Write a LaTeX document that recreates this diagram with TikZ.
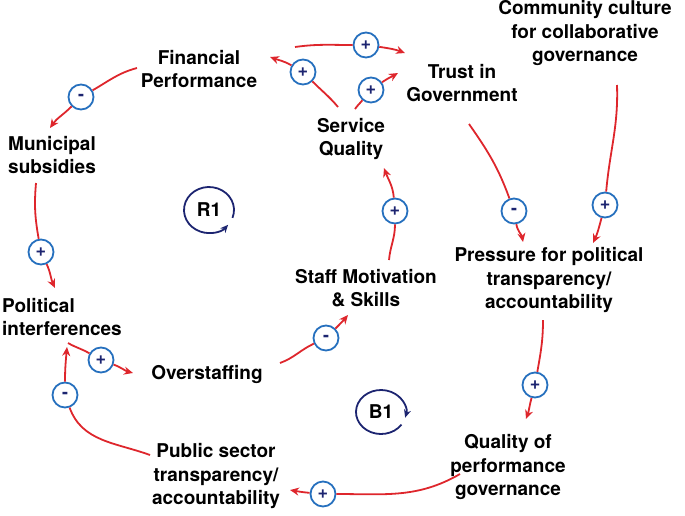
\documentclass[tikz,border=0pt]{standalone}
\usepackage{fontspec}
\setmainfont{TeX Gyre Heros}
\usetikzlibrary{arrows.meta}
\definecolor{linkred}{RGB}{222,38,44}
\definecolor{polblue}{RGB}{38,112,190}
\definecolor{navy}{RGB}{28,36,112}
\tikzset{
  lbl/.style={font=\fontsize{19}{23.5}\selectfont\bfseries, inner sep=0pt, text=black},
  pol/.style={circle, draw=polblue, line width=1.8pt, minimum size=25pt, inner sep=0pt, fill=white,
    text=navy, font=\fontsize{18}{18}\selectfont\bfseries},
  link/.style={draw=linkred, line width=1.8pt},
  linkarrow/.style={link, -{Stealth[length=9pt,width=8pt]}},
  loopmark/.style={draw=navy, line width=1.8pt, -{Stealth[length=8pt,width=7pt]}}
}
\begin{document}
\begin{tikzpicture}[x=1pt,y=1pt]
\useasboundingbox (0,0) rectangle (685,-515);
% text nodes
\node[lbl, align=center] (fin) at (199,-69) {Financial\\Performance};
\node[lbl, align=center] (trust) at (462,-83) {Trust in\\Government};
\node[lbl, align=center] (comm) at (585,-33) {Community culture\\for collaborative\\governance};
\node[lbl, align=left, anchor=west] (mun) at (8,-155) {Municipal\\subsidies};
\node[lbl, align=center] (serv) at (351,-139) {Service\\Quality};
\node[lbl, align=center] (staff) at (366,-288) {Staff Motivation\\\& Skills};
\node[lbl, align=center] (press) at (549,-280) {Pressure for political\\transparency/\\accountability};
\node[lbl, align=left, anchor=west] (pol) at (2,-317) {Political\\interferences};
\node[lbl, align=center] (over) at (207,-374) {Overstaffing};
\node[lbl, align=center] (qual) at (508,-467) {Quality of\\performance\\governance};
\node[lbl, align=center] (pub) at (216,-476) {Public sector\\transparency/\\accountability};
% polarity nodes
\node[pol] (c1) at (81,-97) {-};
\node[pol] (c2) at (41,-252) {+};
\node[pol] (c3) at (101,-360) {+};
\node[pol] (c4) at (326,-338) {-};
\node[pol] (c5) at (395,-211) {+};
\node[pol] (c6) at (303,-72) {+};
\node[pol] (c7) at (371,-90) {+};
\node[pol] (c8) at (366,-45) {+};
\node[pol] (c9) at (514,-211) {-};
\node[pol] (c10) at (605,-205) {+};
\node[pol] (c11) at (535,-385) {+};
\node[pol] (c12) at (323,-494) {+};
\node[pol] (c13) at (65,-395) {-};
% connector ends
\coordinate (finL) at (137,-68);
\coordinate (munT) at (50,-128);
\coordinate (munB) at (36,-183);
\coordinate (polT) at (55,-288);
\coordinate (polR) at (68,-343);
\coordinate (polB) at (67,-347);
\coordinate (overL) at (133,-373);
\coordinate (overR) at (280,-363);
\coordinate (staffB) at (348,-315);
\coordinate (staffT) at (389,-260);
\coordinate (servB) at (384,-168);
\coordinate (servTL) at (338,-107);
\coordinate (servTR) at (355,-109);
\coordinate (finR) at (270,-57);
\coordinate (finT) at (295,-47);
\coordinate (trustL) at (398,-73);
\coordinate (trustLT) at (405,-53);
\coordinate (trustB) at (469,-124);
\coordinate (pressT1) at (523,-242);
\coordinate (commB) at (617,-85);
\coordinate (pressT2) at (593,-243);
\coordinate (pressB) at (543,-320);
\coordinate (qualT) at (526,-419);
\coordinate (qualL) at (460,-474);
\coordinate (pubR) at (290,-490);
\coordinate (pubL) at (150,-455);
% connectors
\draw[link] (finL) to[out=195,in=30] (c1);
\draw[linkarrow] (c1) to[out=225,in=55] (munT);
\draw[link] (munB) to[out=265,in=100] (c2);
\draw[linkarrow] (c2) to[out=295,in=115] (polT);
\draw[link] (polR) to[out=-30,in=150] (c3);
\draw[linkarrow] (c3) to[out=-20,in=165] (overL);
\draw[link] (overR) to[out=20,in=205] (c4);
\draw[linkarrow] (c4) to[out=45,in=230] (staffB);
\draw[link] (staffT) to[out=85,in=-90] (c5);
\draw[linkarrow] (c5) to[out=95,in=-70] (servB);
\draw[link] (servTL) to[out=130,in=-45] (c6);
\draw[linkarrow] (c6) to[out=150,in=-20] (finR);
\draw[link] (servTR) to[out=55,in=230] (c7);
\draw[linkarrow] (c7) to[out=35,in=210] (trustL);
\draw[link] (finT) to[out=8,in=180] (c8);
\draw[linkarrow] (c8) to[out=-8,in=160] (trustLT);
\draw[link] (trustB) to[out=-55,in=110] (c9);
\draw[linkarrow] (c9) to[out=-80,in=100] (pressT1);
\draw[link] (commB) to[out=-88,in=85] (c10);
\draw[linkarrow] (c10) to[out=-105,in=65] (pressT2);
\draw[link] (pressB) to[out=-90,in=80] (c11);
\draw[linkarrow] (c11) to[out=-105,in=70] (qualT);
\draw[link] (qualL) to[out=210,in=0] (c12);
\draw[linkarrow] (c12) to[out=175,in=-10] (pubR);
\draw[link] (pubL) to[out=160,in=-70] (c13);
\draw[linkarrow] (c13) to[out=90,in=-95] (polB);
% loop markers
\node[lbl] (r1) at (209,-210) {R1};
\draw[loopmark] (r1.center) ++(-20:25 and 23) arc[start angle=-380, end angle=-40, x radius=25, y radius=23];
\node[lbl] (b1) at (381,-412) {B1};
\draw[loopmark] (b1.center) ++(325:25 and 22) arc[start angle=325, end angle=-15, x radius=25, y radius=22];
\end{tikzpicture}
\end{document}
